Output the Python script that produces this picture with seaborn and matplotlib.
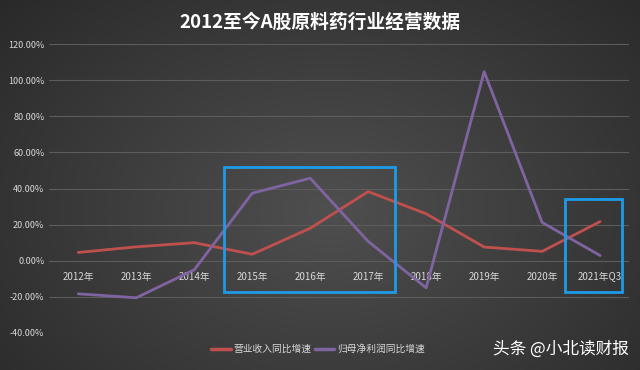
import numpy as np
import pandas as pd
import matplotlib
import matplotlib.pyplot as plt
import seaborn as sns
from matplotlib.lines import Line2D
from matplotlib.patches import Rectangle

years = ["2012年", "2013年", "2014年", "2015年", "2016年", "2017年",
         "2018年", "2019年", "2020年", "2021年Q3"]
revenue_growth = [4.6, 7.7, 10.0, 3.6, 18.0, 38.3, 26.0, 7.6, 5.2, 21.7]
profit_growth = [-18.3, -20.5, -5.0, 37.4, 45.7, 10.7, -15.0, 104.7, 21.2, 2.9]
series_names = ["营业收入同比增速", "归母净利润同比增速"]
colors = ["#c0504d", "#8064a2"]

df = pd.DataFrame({
    "year": years * 2,
    "value": revenue_growth + profit_growth,
    "series": [series_names[0]] * len(years) + [series_names[1]] * len(years),
})

sns.set_theme(style="dark")
plt.rcParams['font.family'] = ['Noto Sans CJK SC', 'DejaVu Sans']

fig = plt.figure(figsize=(6.4, 3.7), dpi=100)

# dark radial background
bg = fig.add_axes([0, 0, 1, 1], zorder=-10)
yy, xx = np.mgrid[0:370, 0:640]
r = np.sqrt(((xx - 330) / 420) ** 2 + ((yy - 210) / 300) ** 2)
shade = np.clip(0.31 - 0.14 * r, 0.15, 0.31)
bg.imshow(np.dstack([shade] * 3), extent=[0, 1, 0, 1], aspect='auto')
bg.axis('off')

ax = fig.add_axes([0.077, 0.1, 0.906, 0.781])
ax.set_facecolor('none')

sns.lineplot(data=df, x="year", y="value", hue="series", palette=colors,
             linewidth=2.0, sort=False, ax=ax, legend=False)

ax.set_xlim(-0.5, len(years) - 0.5)
ax.set_ylim(-40, 120)
ax.set_yticks(np.arange(-40, 121, 20))
ax.set_yticklabels([f"{v:.2f}%" for v in np.arange(-40, 121, 20)])
ax.grid(axis='y', color='#5c5c5c', linewidth=0.8)
ax.grid(axis='x', visible=False)
for s in ['top', 'right', 'left']:
    ax.spines[s].set_visible(False)
ax.spines['bottom'].set_position(('data', 0))
ax.spines['bottom'].set_visible(False)
ax.tick_params(axis='both', length=0, colors='#d9d9d9', labelsize=6.5)
ax.tick_params(axis='x', pad=8, labelsize=7)
ax.set_xlabel("")
ax.set_ylabel("")

# highlight boxes
for x0, x1, y0, y1 in [(2.51, 5.47, -17.1, 52.0), (8.40, 9.38, -17.1, 34.3)]:
    ax.add_patch(Rectangle((x0, y0), x1 - x0, y1 - y0, fill=False,
                           edgecolor='#1e9be8', linewidth=2.0, zorder=5,
                           clip_on=False))

fig.text(0.5, 0.94, "2012至今A股原料药行业经营数据", ha='center', va='center',
         color='white', fontsize=13.5, fontweight='bold')

handles = [Line2D([], [], color=c, linewidth=2.5) for c in colors]
fig.legend(handles, series_names, loc='center', bbox_to_anchor=(0.497, 0.057),
           ncol=2, frameon=False, fontsize=7, labelcolor='#d9d9d9',
           handlelength=2.0, handletextpad=0.3, columnspacing=0.3)

fig.text(0.982, 0.057, "头条 @小北读财报", ha='right', va='center',
         color='white', fontsize=12)

fig.savefig("out.png", dpi=100)
